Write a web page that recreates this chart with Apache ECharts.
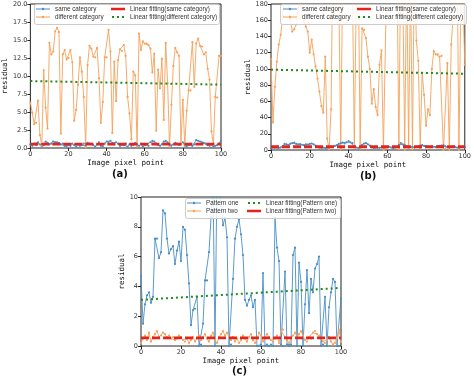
<!DOCTYPE html>
<html><head><meta charset="utf-8">
<script src="https://cdn.jsdelivr.net/npm/echarts@6/dist/echarts.min.js"></script>
<style>html,body{margin:0;padding:0;background:#fff}#c{width:474px;height:379px}</style>
</head><body><div id="c"></div>
<script>
// x positions (image pixel points 0..100)
const pixels = Array.from({length: 101}, (_, i) => i);
const fitX = [0, 100];

// (a)
const sameA = [0.5,0.3,0.6,0.4,0.8,0.5,0.2,0.4,0.9,0.7,
  0.5,0.6,0.9,0.8,0.8,0.7,0.5,0.6,0.3,0.2,
  0.4,0.3,0.6,0.4,0.2,0.5,0.3,0.4,0.6,0.3,
  0.7,0.6,0.6,0.4,0.2,0.5,0.8,0.3,0.2,0.6,
  0.9,0.8,1.0,0.7,0.5,0.8,0.6,0.3,0.5,0.4,
  0.6,0.2,0.5,0.3,0.4,0.7,0.5,0.3,0.6,0.2,
  0.4,0.5,0.3,0.8,1.0,0.9,0.6,0.4,0.3,0.5,
  0.9,1.0,0.8,0.4,0.3,0.5,0.7,0.6,0.4,0.5,
  0.8,0.3,0.2,0.4,0.6,0.3,0.5,1.1,1.0,0.9,
  0.8,0.7,0.6,0.4,0.3,0.5,0.2,0.3,0.4,0.6,
  1.0];
const diffA = [6.3,4.9,3.3,3.5,6.6,1.8,0.3,10.8,5.6,2.7,
  14.6,13.0,13.4,16.2,16.7,16.1,2.0,13.0,13.6,12.3,
  12.5,13.6,11.9,3.8,5.3,8.8,12.6,10.6,7.1,0.1,
  11.5,14.2,13.8,12.7,12.6,13.9,9.7,3.5,6.4,12.6,
  12.6,16.4,13.4,2.1,12.0,6.5,12.2,13.7,13.5,14.3,
  12.8,7.1,4.8,1.2,10.6,10.1,0.2,15.9,13.6,14.8,
  14.5,14.5,14.3,13.8,10.5,13.1,2.4,10.9,8.3,12.4,
  3.9,14.6,9.0,0.2,6.0,11.4,13.9,13.3,12.8,0.5,
  6.7,0.3,5.2,8.0,8.0,14.7,8.5,14.5,15.2,14.2,
  14.1,13.0,13.3,11.0,9.5,2.3,0.5,7.1,7.0,12.8,
  12.8];
const fitSameA = [0.55, 0.55];
const fitDiffA = [9.3, 8.8];

// (b)
const sameB = [2.5,3.0,2.8,3.2,2.6,3.0,4.5,7.5,7.0,6.5,
  7.8,8.5,9.0,7.5,6.8,7.2,6.5,6.0,7.0,6.8,
  7.5,8.0,7.0,5.5,4.0,3.0,2.5,3.0,2.2,2.8,
  3.5,4.0,3.5,5.0,6.0,7.5,8.5,9.0,8.0,9.5,
  11.0,9.5,8.5,4.0,3.0,2.5,3.5,6.5,8.0,8.5,
  7.0,5.5,3.5,2.5,3.0,2.8,2.5,3.2,3.0,2.8,
  3.5,4.0,3.0,2.5,3.0,3.5,6.5,8.5,7.0,6.0,
  4.5,3.5,4.0,3.5,3.0,4.0,4.5,5.5,6.0,5.0,
  4.5,3.8,3.5,4.2,4.0,3.5,4.5,5.0,5.5,6.0,
  4.5,3.5,3.0,3.8,4.2,3.5,3.0,2.8,3.5,4.0,
  3.5];
const diffB = [112,34,78,109,130,142,165,195,240,178,
  160,146,149,155,175,190,165,158,152,146,
  120,136,118,103,88,72,54,46,115,14,
  1,50,260,230,200,190,1,220,200,195,
  210,190,205,3,190,230,2,150,148,138,
  115,100,57,75,53,43,105,123,0,2,
  250,200,190,230,210,220,1,260,200,0,
  230,2,210,1,240,135,110,2,95,68,
  30,50,43,100,122,118,118,115,116,0,
  2,107,0,130,165,220,240,0,200,190,
  105];
const fitSameB = [4.0, 4.0];
const fitDiffB = [99, 94];

// (c)
const patternOne = [4.7,1.5,2.8,3.4,3.6,2.9,3.3,7.2,7.2,5.9,
  6.3,9.1,8.9,7.2,6.2,6.5,6.7,5.5,6.4,7.0,
  5.7,8.0,7.8,6.1,4.2,1.4,2.4,2.5,3.3,0.0,
  0.1,1.5,4.4,4.4,6.3,8.6,11.0,0.0,11.5,10.5,
  9.5,8.1,8.6,7.3,0.0,0.1,4.5,7.2,8.0,8.5,
  7.5,6.1,3.1,2.7,3.1,3.4,2.6,3.1,0.0,0.0,
  0.1,4.9,0.0,0.1,0.0,0.1,0.0,8.6,6.6,5.7,
  0.1,0.0,5.0,0.1,0.0,0.1,6.1,6.6,0.0,5.6,
  4.3,0.0,2.8,5.1,2.2,4.5,3.6,5.2,5.5,6.0,
  0.0,0.1,3.3,0.0,2.6,3.6,4.5,4.3,0.0,0.0,
  3.2];
const patternTwo = [0.2,0.5,0.7,0.4,0.9,0.3,0.6,0.8,1.0,0.6,
  0.7,0.9,0.8,0.6,0.7,0.5,0.6,0.4,0.5,0.7,
  0.6,0.4,0.3,0.5,0.2,0.4,0.6,0.3,0.5,0.7,
  0.4,0.6,0.8,0.5,0.3,0.7,0.9,0.4,0.2,0.6,
  0.8,1.0,0.7,0.9,0.6,0.4,0.6,0.3,0.5,0.2,
  0.4,0.7,0.5,0.3,0.6,0.8,0.4,0.2,0.5,0.9,
  0.7,0.3,0.5,0.8,0.6,0.4,0.3,0.5,0.7,0.2,
  1.0,1.1,0.6,0.4,0.2,0.5,0.7,0.9,0.6,0.8,
  1.0,0.7,0.4,0.3,0.6,0.5,0.9,1.0,0.8,0.7,
  0.5,0.3,0.2,0.4,0.6,0.3,0.1,0.2,0.5,1.1,
  0.3];
const fitOneC = [3.1, 3.9];
const fitTwoC = [0.55, 0.55];

const BLUE = '#4a8ec6', ORANGE = '#f5a25a', RED = '#e3231c', GREEN = '#218a21';
const pts = (ys) => ys.map((v, i) => [pixels[i], v]);
const fitPts = (ys) => ys.map((v, i) => [fitX[i], v]);

// legend icons (box 14 x 6, tiny corner marks keep the box extent)
const EXT = 'M0,0 L0.01,0 L0.01,0.01 Z M14,6 L13.99,6 L13.99,5.99 Z ';
const ICON_MARK = 'path://' + EXT + 'M0,2.6 L14,2.6 L14,3.4 L0,3.4 Z M8.3,3 A1.3,1.3 0 1 1 5.7,3 A1.3,1.3 0 1 1 8.3,3 Z';
const ICON_BAR = 'path://' + EXT + 'M0,1.7 L14,1.7 L14,4.3 L0,4.3 Z';
const ICON_DOTS = 'path://' + EXT + 'M1,2 L3,2 L3,4 L1,4 Z M6,2 L8,2 L8,4 L6,4 Z M11,2 L13,2 L13,4 L11,4 Z';

function dataSeries(name, ys, color, gi) {
  return {type: 'line', name, data: pts(ys), xAxisIndex: gi, yAxisIndex: gi,
    symbol: 'circle', symbolSize: 2.2, showSymbol: true,
    lineStyle: {width: 0.9, color}, itemStyle: {color}, z: 3, silent: true};
}
function fitSeries(name, ys, kind, gi) {
  const red = kind === 'red';
  return {type: 'line', name, data: fitPts(ys), xAxisIndex: gi, yAxisIndex: gi,
    symbol: 'none', showSymbol: false,
    lineStyle: red ? {width: 2.8, color: RED, type: [8, 3]} : {width: 2, color: GREEN, type: [2, 3]},
    itemStyle: {color: red ? RED : GREEN}, z: 4, silent: true};
}

const labelStyle = {fontSize: 6.5, color: '#333', fontFamily: 'DejaVu Sans'};
const nameStyle = {fontSize: 7.5, color: '#111', fontFamily: 'DejaVu Sans Mono'};

function xAx(gi, gap) {
  return {type: 'value', gridIndex: gi, min: 0, max: 100, interval: 20,
    name: 'Image pixel point', nameLocation: 'middle', nameGap: gap, nameTextStyle: nameStyle,
    axisLine: {show: false}, axisTick: {show: true, length: 3, lineStyle: {color: '#222'}},
    axisLabel: Object.assign({margin: 3}, labelStyle), splitLine: {show: false}};
}
function yAx(gi, max, interval, gap, fmt) {
  return {type: 'value', gridIndex: gi, min: 0, max, interval,
    name: 'residual', nameLocation: 'middle', nameGap: gap, nameRotate: 90, nameTextStyle: nameStyle,
    axisLine: {show: false}, axisTick: {show: true, length: 3, lineStyle: {color: '#222'}},
    axisLabel: Object.assign({margin: 3, formatter: fmt}, labelStyle), splitLine: {show: false}};
}

const legendText = {fontSize: 6.3, color: '#333', fontFamily: 'Liberation Sans'};
function legend(items, left, top) {
  return {data: items.map(([name, icon]) => ({name, icon})), orient: 'vertical', left, top,
    itemWidth: 14, itemHeight: 6, itemGap: 2,
    padding: 0, textStyle: legendText, backgroundColor: 'transparent', z: 10, selectedMode: false};
}

const chart = echarts.init(document.getElementById('c'), null, {renderer: 'canvas'});
chart.setOption({
  animation: false,
  grid: [
    {left: 26, top: 4, width: 195, height: 144, show: true, borderColor: '#222', borderWidth: 1},
    {left: 271, top: 4, width: 197, height: 146, show: true, borderColor: '#222', borderWidth: 1},
    {left: 141, top: 197, width: 200, height: 149, show: true, borderColor: '#222', borderWidth: 1}
  ],
  xAxis: [xAx(0, 11), xAx(1, 11), xAx(2, 10)],
  yAxis: [
    yAx(0, 20, 2.5, 17, v => v.toFixed(1)),
    yAx(1, 180, 20, 17, v => v),
    yAx(2, 10, 2, 12, v => v)
  ],
  legend: [
    legend([['same category', ICON_MARK], ['different category', ICON_MARK]], 36, 6),
    legend([['Linear fitting(same category)', ICON_BAR], ['Linear fitting(different category)', ICON_DOTS]], 111, 6),
    legend([['same category', ICON_MARK], ['different category', ICON_MARK]], 283, 6),
    legend([['Linear fitting(same category)', ICON_BAR], ['Linear fitting(different category)', ICON_DOTS]], 357, 6),
    legend([['Pattern one', ICON_MARK], ['Pattern two', ICON_MARK]], 187, 200),
    legend([['Linear fitting(Pattern one)', ICON_DOTS], ['Linear fitting(Pattern two)', ICON_BAR]], 247, 200)
  ],
  graphic: [
    {type: 'rect', left: 34, top: 4, shape: {width: 185, height: 20, r: 2}, z: 8,
      style: {fill: 'rgba(255,255,255,0.85)', stroke: '#ccc', lineWidth: 1}},
    {type: 'rect', left: 280, top: 4, shape: {width: 186, height: 20, r: 2}, z: 8,
      style: {fill: 'rgba(255,255,255,0.85)', stroke: '#ccc', lineWidth: 1}},
    {type: 'rect', left: 185, top: 198, shape: {width: 155, height: 20, r: 2}, z: 8,
      style: {fill: 'rgba(255,255,255,0.85)', stroke: '#ccc', lineWidth: 1}},
    {type: 'text', left: 112, top: 169, z: 10, style: {text: '(a)', fontSize: 10, fontWeight: 'bold', fill: '#111', fontFamily: 'DejaVu Sans'}},
    {type: 'text', left: 360, top: 171, z: 10, style: {text: '(b)', fontSize: 10, fontWeight: 'bold', fill: '#111', fontFamily: 'DejaVu Sans'}},
    {type: 'text', left: 232, top: 366, z: 10, style: {text: '(c)', fontSize: 10, fontWeight: 'bold', fill: '#111', fontFamily: 'DejaVu Sans'}}
  ],
  series: [
    dataSeries('same category', sameA, BLUE, 0),
    dataSeries('different category', diffA, ORANGE, 0),
    fitSeries('Linear fitting(same category)', fitSameA, 'red', 0),
    fitSeries('Linear fitting(different category)', fitDiffA, 'green', 0),
    dataSeries('same category', sameB, BLUE, 1),
    dataSeries('different category', diffB, ORANGE, 1),
    fitSeries('Linear fitting(same category)', fitSameB, 'red', 1),
    fitSeries('Linear fitting(different category)', fitDiffB, 'green', 1),
    dataSeries('Pattern one', patternOne, BLUE, 2),
    dataSeries('Pattern two', patternTwo, ORANGE, 2),
    fitSeries('Linear fitting(Pattern one)', fitOneC, 'green', 2),
    fitSeries('Linear fitting(Pattern two)', fitTwoC, 'red', 2)
  ]
});
</script>
</body></html>
